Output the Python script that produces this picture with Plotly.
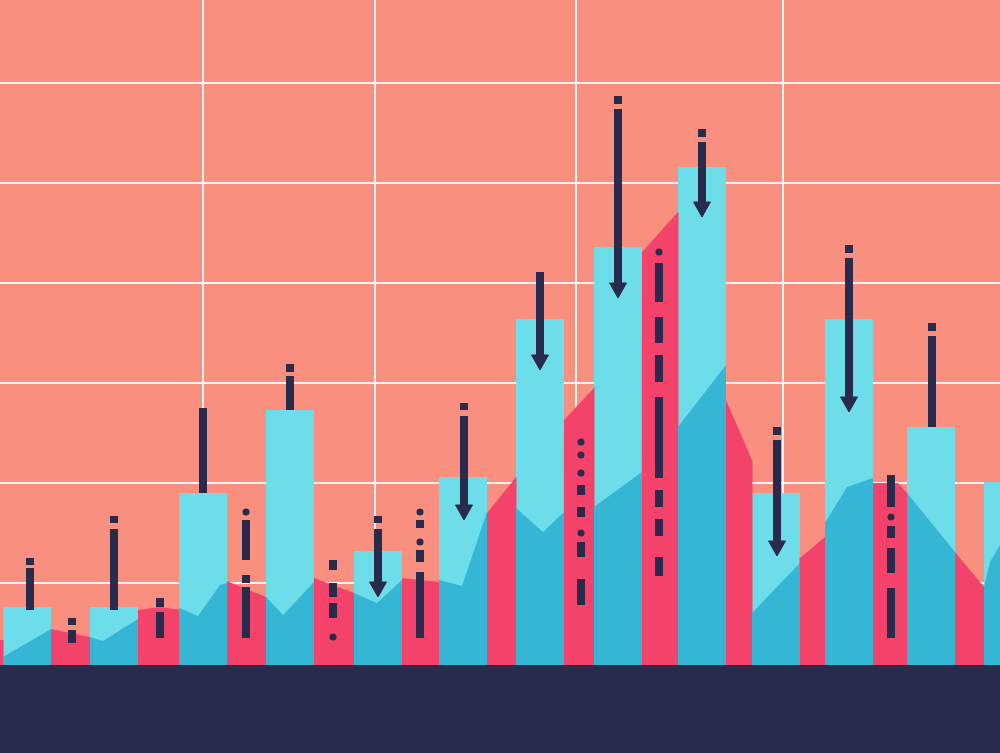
import numpy as np
import plotly.graph_objects as go

# ---------------- data ----------------
# cyan bars: centres and heights (value units, baseline = 0)
bar_x = [27, 114, 203, 290, 378, 463, 540, 618, 702, 776, 849, 931, 1008]
bar_h = [58, 58, 172, 255, 114, 188, 346, 418, 498, 172, 346, 238, 183]
BAR_W = 48

# darker blue area shown inside the cyan bars
dark_x = [3, 51, 90, 103, 138, 179, 198, 220, 227, 266, 283, 314, 354, 377, 402,
          439, 462, 487, 516, 543, 564, 594, 642, 678, 726, 752, 800, 825, 847, 873,
          907, 955, 984, 990, 1000, 1032]
dark_y = [8, 36, 28, 24, 46, 57, 49, 80, 82, 68, 50, 83, 72, 62, 85,
          85, 79, 153, 157, 133, 153, 158, 193, 238, 300, 52, 102, 142, 178, 187,
          172, 113, 78, 103, 120, 140]

# red area shown in the gaps between bars
red_x = [0, 3, 51, 90, 138, 160, 179, 227, 266, 314, 354, 402, 439, 487, 516,
         564, 594, 642, 678, 726, 752, 800, 825, 873, 898, 907, 955, 984]
red_y = [25, 25, 36, 28, 55, 58, 55, 84, 68, 87, 72, 87, 83, 152, 188,
         245, 277, 413, 453, 265, 205, 107, 128, 182, 182, 172, 113, 78]

# navy marks: vertical segments (x, top, bottom)
seg_x = [30, 30, 72, 72, 114, 114, 160, 160, 203,
         246, 246, 246, 290, 290, 333, 333, 333, 378, 378,
         420, 420, 420, 464, 464, 540,
         581, 581, 581, 581, 618, 618,
         659, 659, 659, 659, 659, 659, 659,
         702, 702, 777, 777, 849, 849,
         891, 891, 891, 891, 932, 932]
seg_top = [107, 97, 47, 35, 149, 136, 67, 53, 257,
           145, 90, 78, 301, 289, 105, 82, 62, 149, 136,
           145, 115, 93, 262, 249, 393,
           180, 158, 123, 86, 569, 556,
           402, 348, 310, 268, 175, 146, 108,
           536, 523, 238, 225, 420, 407,
           190, 139, 117, 77, 342, 329]
seg_bot = [100, 55, 40, 22, 142, 55, 58, 27, 172,
           105, 82, 27, 293, 255, 95, 68, 47, 142, 82,
           137, 103, 27, 255, 160, 310,
           170, 148, 108, 60, 561, 382,
           363, 322, 283, 187, 158, 129, 89,
           528, 463, 230, 123, 412, 268,
           158, 127, 92, 27, 334, 238]

# round dots
dot_x = [246, 420, 420, 581, 581, 581, 581, 659, 891, 333]
dot_y = [153, 153, 123, 223, 210, 192, 132, 413, 148, 28]

# arrow heads (x, tip value)
head_x = [378, 464, 540, 618, 702, 777, 849]
head_tip = [68, 145, 295, 367, 448, 109, 253]

# grid positions
grid_x = [203, 375, 576, 783]
grid_y = [82, 182, 282, 382, 482, 582]

# ---------------- styles ----------------
SALMON = "#F98F7F"
CYAN = "#6CDDE9"
DARK = "#36B6D5"
RED = "#F4436A"
NAVY = "#282B4B"
HEAD_HALF_W = 8.5
HEAD_H = 15
SEG_W = 8


def clipped_polys(xs, ys, intervals):
    px, py = [], []
    for x0, x1 in intervals:
        x0c, x1c = max(x0, 0), min(x1, 1000)
        if x1c <= x0c:
            continue
        pts = [(x0c, float(np.interp(x0c, xs, ys)))]
        pts += [(x, y) for x, y in zip(xs, ys) if x0c < x < x1c]
        pts.append((x1c, float(np.interp(x1c, xs, ys))))
        px += [x0c] + [p[0] for p in pts] + [x1c, x0c, None]
        py += [0] + [p[1] for p in pts] + [0, 0, None]
    return px, py


lefts = [c - BAR_W / 2 for c in bar_x]
rights = [c + BAR_W / 2 for c in bar_x]
bar_iv = list(zip(lefts, rights))
gap_iv = [(0 - 0.5, lefts[0] + 0.5)] + [(rights[i] - 0.5, lefts[i + 1] + 0.5)
                                       for i in range(len(bar_x) - 1)]

fig = go.Figure()

rx, ry = clipped_polys(red_x, red_y, gap_iv)
fig.add_trace(go.Scatter(x=rx, y=ry, mode="lines", fill="toself", fillcolor=RED,
                         line=dict(width=0, color=RED), hoverinfo="skip"))

fig.add_trace(go.Bar(x=bar_x, y=bar_h, width=BAR_W, marker=dict(color=CYAN, line=dict(width=0)),
                     hoverinfo="skip"))

dx, dy = clipped_polys(dark_x, dark_y, bar_iv)
fig.add_trace(go.Scatter(x=dx, y=dy, mode="lines", fill="toself", fillcolor=DARK,
                         line=dict(width=0, color=DARK), hoverinfo="skip"))

sx, sy = [], []
for x, t, b in zip(seg_x, seg_top, seg_bot):
    sx += [x, x, None]
    sy += [t, b, None]
fig.add_trace(go.Scatter(x=sx, y=sy, mode="lines", line=dict(color=NAVY, width=SEG_W),
                         hoverinfo="skip"))

fig.add_trace(go.Scatter(x=dot_x, y=dot_y, mode="markers",
                         marker=dict(color=NAVY, size=7, symbol="circle"), hoverinfo="skip"))

hx, hy = [], []
for x, t in zip(head_x, head_tip):
    hx += [x - HEAD_HALF_W, x + HEAD_HALF_W, x, x - HEAD_HALF_W, None]
    hy += [t + HEAD_H, t + HEAD_H, t, t + HEAD_H, None]
fig.add_trace(go.Scatter(x=hx, y=hy, mode="lines", fill="toself", fillcolor=NAVY,
                         line=dict(width=1, color=NAVY), hoverinfo="skip"))

fig.update_layout(
    width=1000, height=753, autosize=False,
    margin=dict(l=0, r=0, t=0, b=88, pad=0),
    paper_bgcolor=NAVY, plot_bgcolor=SALMON,
    showlegend=False, bargap=0,
    xaxis=dict(range=[0, 1000], tickvals=grid_x, showticklabels=False, ticks="",
               showgrid=True, gridcolor="rgba(255,255,255,0.9)", gridwidth=2,
               zeroline=False, showline=False, fixedrange=True),
    yaxis=dict(range=[0, 665], tickvals=grid_y, showticklabels=False, ticks="",
               showgrid=True, gridcolor="rgba(255,255,255,0.9)", gridwidth=2,
               zeroline=False, showline=False, fixedrange=True),
)

fig.write_html("out.html")
